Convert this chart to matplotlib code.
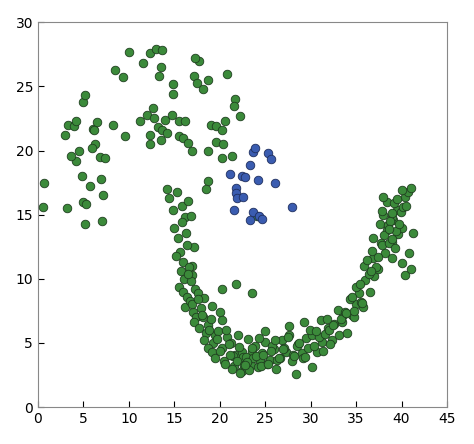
import matplotlib
matplotlib.use("Agg")
import matplotlib.pyplot as plt

upper_x = [0.7,0.6,3,3.3,3.2,4,4.2,4.5,4.8,5,5.2,5,5.3,5.2,6.1,6.5,6.2,6.8,6.9,7,7.2,6.3,5.7,8.5,9.6,10,9.4,11.6,12.3,13,13.6,13.5,13.3,11.2,12,12.7,12.8,13.2,13.6,14,14.2,13.5,12.3,12.3,14.9,14.9,15.5,16,16.5,16.9,17.2,17.5,18.7,18.2,17.7,17.3,20.8,21.7,21.6,22.2,20.6,19,19.6,20.3,19.6,18.7,20.4,20.2,18.7,18.5,21.4,14.7,15.5,16.2,8.3,4.2,3.6,5.9,7.4]
upper_y = [17.5,15.6,21.2,22,15.5,21.9,19.2,20,18,23.8,24.3,16,15.8,14.3,21.7,22.2,21.6,19.5,17.8,14.5,16.5,20.5,17.2,26.3,21.1,27.7,25.7,26.8,27.6,27.9,27.8,26.5,25.8,22.3,22.8,23.3,22.5,21.8,21.6,22.4,21.4,20.8,21.2,20.5,25.2,24.4,21.1,21,20.6,20,25.8,25.3,25.5,24.8,27,27.2,26,24,23.5,22.7,22.3,22,21.9,21.6,20.7,20,20.5,19.4,17.6,17,19.6,22.8,22.3,22.3,22.0,22.3,19.6,20.2,19.4]

lower_x = [14.2,14.4,14.9,15.3,15.8,16.2,16.5,15.0,15.4,15.9,16.3,16.8,17.2,15.6,16.0,16.4,16.9,15.2,15.7,16.1,16.6,17.0,15.5,16.0,16.4,16.8,17.3,16.2,16.7,17.1,17.6,16.5,17.0,17.4,17.9,18.3,17.2,17.7,18.2,18.7,19.1,17.6,18.0,18.5,19.0,19.5,20.0,18.3,18.8,19.3,19.8,20.3,20.8,18.7,19.2,19.7,20.2,20.7,21.2,21.7,19.5,20.0,20.5,21.0,21.5,22.0,22.5,20.6,21.1,21.6,22.1,22.6,23.1,23.6,21.4,21.9,22.4,22.9,23.4,23.9,24.4,22.2,22.7,23.2,23.7,24.2,24.7,25.2,23.0,23.5,24.0,24.5,25.0,25.5,26.0,24.3,24.8,25.3,25.8,26.3,26.8,27.3,25.6,26.1,26.6,27.1,27.6,28.1,28.6,26.5,27.0,27.5,28.0,28.5,29.0,29.5,28.2,28.7,29.2,29.7,30.2,30.7,31.2,29.4,29.9,30.4,30.9,31.4,31.9,32.4,30.6,31.1,31.6,32.1,32.6,33.1,33.6,32.0,32.5,33.0,33.5,34.0,34.5,35.0,33.3,33.8,34.3,34.8,35.3,35.8,34.5,35.0,35.5,36.0,36.5,37.0,35.4,35.9,36.4,36.9,37.4,36.2,36.7,37.2,37.7,38.2,36.9,37.4,37.9,38.4,38.9,37.6,38.1,38.6,39.1,39.6,38.0,38.5,39.0,39.5,40.0,38.4,38.9,39.4,39.9,40.4,38.7,39.2,39.7,40.2,40.7,39.0,39.5,40.0,40.5,41.0,38.0,38.6,39.3,40.1,40.8,41.3,37.8,38.9,40.4,41.0,24.1,26.2,28.4,30.1,22.8,25.0,27.6,29.3,31.8,33.9,35.6,20.2,21.8,23.5,34.8,36.6]
lower_y = [17.0,16.3,15.4,16.8,15.7,14.8,16.1,14.0,13.2,14.4,13.6,14.9,12.5,12.1,11.3,12.6,11.0,11.8,10.6,10.0,10.9,10.3,9.4,9.0,8.6,9.8,9.2,7.8,8.3,7.4,8.9,10.4,8.0,7.0,7.7,8.5,6.6,6.2,7.0,6.4,7.9,8.4,7.2,5.8,6.9,5.6,7.4,5.2,6.0,5.0,5.9,6.8,5.5,4.6,4.3,5.3,4.6,6.0,5.0,4.1,3.8,4.4,3.6,4.9,4.0,5.6,4.3,3.4,4.1,3.2,4.7,3.9,5.3,4.4,3.0,3.6,2.8,3.9,3.3,4.8,3.6,2.7,3.3,2.9,3.8,3.1,4.2,3.4,3.5,4.6,4.0,3.2,5.1,3.7,4.5,5.4,4.1,3.4,4.8,3.7,5.2,4.3,4.4,5.2,3.8,4.6,5.6,4.1,4.9,3.8,4.5,5.5,3.6,4.8,4.2,5.4,4.0,5.0,3.8,4.6,5.6,4.3,5.1,3.9,6.0,4.8,5.5,4.4,6.2,5.2,5.9,6.8,5.7,4.9,6.5,5.6,7.2,6.0,6.4,7.6,6.6,5.8,7.2,8.0,6.9,7.4,8.4,7.0,8.9,7.8,8.6,9.4,8.2,9.9,9.0,10.2,9.6,11.0,10.4,11.6,10.8,11.5,12.2,10.9,12.8,12.0,13.2,11.7,12.6,13.8,12.9,14.3,13.4,12.8,14.6,13.5,15.0,14.2,13.1,15.4,14.0,16.0,14.8,13.7,15.2,16.4,14.5,15.9,14.3,15.6,16.8,15.1,16.2,16.9,15.7,17.1,16.4,13.9,12.4,11.2,12.0,13.6,15.3,11.6,10.3,10.8,14.9,3.0,2.6,3.1,3.3,5.9,6.3,6.6,6.9,7.3,8.1,9.2,9.6,8.9,7.5,10.6,11.9]

blue_x = [21.1,22.4,22.8,23.3,23.7,23.9,24.2,25.3,25.6,26.1,21.8,21.8,21.9,22.6,21.6,27.9,23.7,24.3,24.6,23.3]
blue_y = [18.2,18.0,17.9,18.9,19.9,20.2,17.7,19.8,19.3,17.5,17.1,16.7,16.3,16.4,15.4,15.6,15.2,14.9,14.7,14.6]

fig = plt.figure(figsize=(4.74, 4.44), dpi=100)
ax = fig.add_axes([0.08, 0.083, 0.863, 0.867])
green = "#3b8a3a"
blue = "#3a5cb0"
n_up = min(len(upper_x), len(upper_y))
n_lo = min(len(lower_x), len(lower_y))
ax.scatter(upper_x[:n_up], upper_y[:n_up], s=38, c=green, edgecolors="#1f3f1f", linewidths=0.6, zorder=3)
ax.scatter(lower_x[:n_lo], lower_y[:n_lo], s=38, c=green, edgecolors="#1f3f1f", linewidths=0.6, zorder=3)
ax.scatter(blue_x, blue_y, s=38, c=blue, edgecolors="#1f2f5f", linewidths=0.6, zorder=3)
ax.set_xlim(0, 45)
ax.set_ylim(0, 30)
ax.set_xticks(range(0, 46, 5))
ax.set_yticks(range(0, 31, 5))
ax.tick_params(direction="in", labelsize=10, length=4)
for sp in ax.spines.values():
    sp.set_color("#888888")
fig.savefig("out.png", dpi=100)
